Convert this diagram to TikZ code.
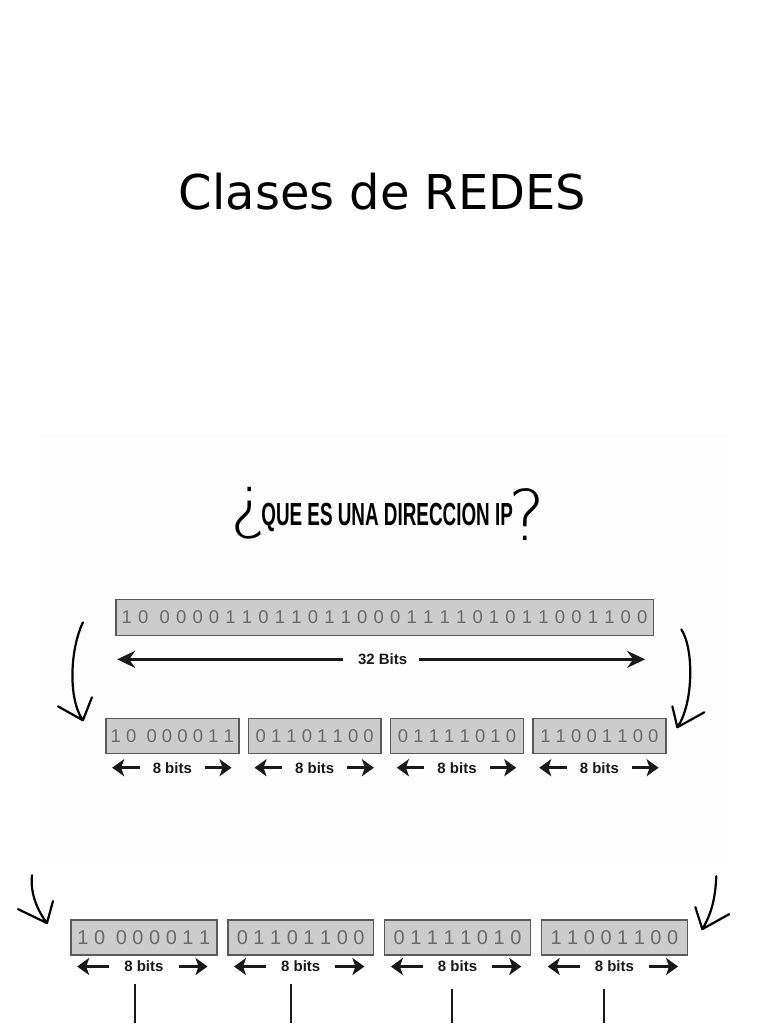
\documentclass[tikz,border=0pt]{standalone}
\usepackage{fontspec}
\usepackage{graphicx}
\setmainfont{Liberation Sans}
\newfontfamily\titlefont{DejaVu Sans}
\IfFontExistsTF{DejaVuSans-ExtraLight.ttf}
	{\newfontfamily\handfont{DejaVuSans-ExtraLight.ttf}}
	{\IfFontExistsTF{DejaVu Sans ExtraLight}
		{\newfontfamily\handfont{DejaVu Sans ExtraLight}}
		{\newfontfamily\handfont{Fira Sans}}}
\usetikzlibrary{arrows.meta}
\usetikzlibrary{positioning}
\definecolor{boxfill}{RGB}{204,204,204}
\definecolor{boxline}{RGB}{90,90,90}
\definecolor{digitgray}{RGB}{105,105,105}
\definecolor{inkdark}{RGB}{25,25,25}
\definecolor{panel}{RGB}{253,253,253}

\begin{document}
\begin{tikzpicture}[x=1pt,y=-1pt]
		\tikzstyle{octet}=[rectangle,draw=boxline,fill=boxfill,line width=1.5pt,
			minimum width=133pt,minimum height=35pt,inner sep=0pt,text=digitgray,
			font=\fontsize{18.5}{20}\selectfont];
		\tikzstyle{octetbig}=[octet,minimum width=146pt,font=\fontsize{20}{22}\selectfont];
		\tikzstyle{bitrow}=[octet,minimum width=538pt,minimum height=36pt];
		\tikzstyle{octlabel}=[inner sep=0pt,text=inkdark,font=\bfseries\fontsize{15}{16}\selectfont];
		\tikzstyle{octarrow}=[-{Stealth[length=12pt,width=17pt,inset=3pt]},line width=3.2pt,inkdark];
		\tikzstyle{longarrow}=[-{Stealth[length=18pt,width=17pt,inset=6pt]},line width=3.2pt,inkdark];
		\tikzstyle{hand}=[line width=2.2pt,line cap=round,line join=round,black];
		\tikzstyle{stem}=[line width=2pt,inkdark];

		\fill[white](0,0)rectangle(768,1024);
		\fill[panel](38,433)rectangle(730,866);

		\node[anchor=base,font=\titlefont\fontsize{48}{54}\selectfont](title)at(383,210){Clases de REDES};

		% question heading
		\node[anchor=base,inner sep=0pt,font=\bfseries\fontsize{32}{34}\selectfont](q)at(387.5,526)
			{\scalebox{0.59}[1]{QUE ES UNA DIRECCION IP}};
		\node[anchor=base east,inner sep=0pt,font=\handfont\fontsize{70}{70}\selectfont](qopen)
			at([xshift=7pt]q.base west){¿};
		\node[anchor=base west,inner sep=0pt,font=\handfont\fontsize{70}{70}\selectfont](qclose)
			at([xshift=-5pt,yshift=-15pt]q.base east){?};

		% the whole address
		\node[bitrow](w)at(385,618){\spaceskip 6.2pt\relax 1 0\hspace{5pt} 0 0 0 0 1 1 0 1 1 0 1 1 0 0 0 1 1 1 1 0 1 0 1 1 0 0 1 1 0 0};
		\node[octlabel](t)at(383,660){32 Bits};
		\draw[longarrow]([xshift=-15pt]t.west)--([xshift=2pt]w.west|-t.west);
		\draw[longarrow]([xshift=12pt]t.east)--([xshift=-9pt]w.east|-t.east);

		% first split
		\node[octet](11)at(172.5,736.5){1 0\hspace{5pt} 0 0 0 0 1 1};
		\node[octet,right=8pt of 11](12){0 1 1 0 1 1 0 0};
		\node[octet,right=8pt of 12](13){0 1 1 1 1 0 1 0};
		\node[octet,right=8pt of 13](14){1 1 0 0 1 1 0 0};
		\node[octlabel,below=8pt of 11](l11){8 bits};
		\node[octlabel,below=8pt of 12](l12){8 bits};
		\node[octlabel,below=8pt of 13](l13){8 bits};
		\node[octlabel,below=8pt of 14](l14){8 bits};
		\draw[octarrow]([xshift=-13pt]l11.west)--([xshift=7pt]11.west|-l11.west);
		\draw[octarrow]([xshift=13pt]l11.east)--([xshift=-8pt]11.east|-l11.east);
		\draw[octarrow]([xshift=-13pt]l12.west)--([xshift=7pt]12.west|-l12.west);
		\draw[octarrow]([xshift=13pt]l12.east)--([xshift=-8pt]12.east|-l12.east);
		\draw[octarrow]([xshift=-13pt]l13.west)--([xshift=7pt]13.west|-l13.west);
		\draw[octarrow]([xshift=13pt]l13.east)--([xshift=-8pt]13.east|-l13.east);
		\draw[octarrow]([xshift=-13pt]l14.west)--([xshift=7pt]14.west|-l14.west);
		\draw[octarrow]([xshift=13pt]l14.east)--([xshift=-8pt]14.east|-l14.east);

		\coordinate(h1s)at(83,623);\coordinate(h1t)at(83,721);
		\draw[hand](h1s)..controls(70,650)and(68,700)..(h1t)(h1t)--+(-25,-14)(h1t)--+(9,-23);
		\coordinate(h2s)at(682,630);\coordinate(h2t)at(678,728);
		\draw[hand](h2s)..controls(695,650)and(694,705)..(h2t)(h2t)--+(-5,-21)(h2t)--+(27,-15);

		% second split
		\node[octetbig](21)at(144,938.5){1 0\hspace{5pt} 0 0 0 0 1 1};
		\node[octetbig,right=9.5pt of 21](22){0 1 1 0 1 1 0 0};
		\node[octetbig,right=9.5pt of 22](23){0 1 1 1 1 0 1 0};
		\node[octetbig,right=9.5pt of 23](24){1 1 0 0 1 1 0 0};
		\node[octlabel,below=5pt of 21](l21){8 bits};
		\node[octlabel,below=5pt of 22](l22){8 bits};
		\node[octlabel,below=5pt of 23](l23){8 bits};
		\node[octlabel,below=5pt of 24](l24){8 bits};
		\draw[octarrow]([xshift=-15pt]l21.west)--([xshift=7pt]21.west|-l21.west);
		\draw[octarrow]([xshift=15pt]l21.east)--([xshift=-10pt]21.east|-l21.east);
		\draw[octarrow]([xshift=-15pt]l22.west)--([xshift=7pt]22.west|-l22.west);
		\draw[octarrow]([xshift=15pt]l22.east)--([xshift=-10pt]22.east|-l22.east);
		\draw[octarrow]([xshift=-15pt]l23.west)--([xshift=7pt]23.west|-l23.west);
		\draw[octarrow]([xshift=15pt]l23.east)--([xshift=-10pt]23.east|-l23.east);
		\draw[octarrow]([xshift=-15pt]l24.west)--([xshift=7pt]24.west|-l24.west);
		\draw[octarrow]([xshift=15pt]l24.east)--([xshift=-10pt]24.east|-l24.east);

		\coordinate(h3s)at(32,876);\coordinate(h3t)at(47,924);
		\draw[hand](h3s)..controls(30,895)and(38,912)..(h3t)(h3t)--+(-29,-14)(h3t)--+(6,-22);
		\coordinate(h4s)at(717,877);\coordinate(h4t)at(703,930);
		\draw[hand](h4s)..controls(716,900)and(712,915)..(h4t)(h4t)--+(-7,-22)(h4t)--+(27,-15);

		\coordinate(s1)at(135,985);\coordinate(s2)at(291,985);
		\coordinate(s3)at(452,990);\coordinate(s4)at(605,990);
		\draw[stem](s1)--(s1|-0,1024);
		\draw[stem](s2)--(s2|-0,1024);
		\draw[stem](s3)--(s3|-0,1024);
		\draw[stem](s4)--(s4|-0,1024);
	\end{tikzpicture}
\end{document}
